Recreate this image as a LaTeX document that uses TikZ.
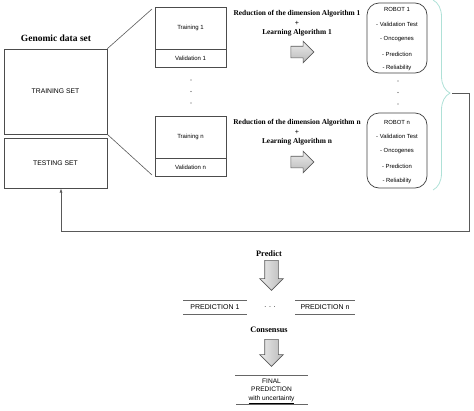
\documentclass[tikz,border=0pt]{standalone}
\usepackage{fontspec}
\setmainfont{Liberation Serif}
\setsansfont{Liberation Sans}
\usetikzlibrary{shapes.arrows,decorations.pathreplacing,arrows.meta}
\definecolor{braceteal}{RGB}{175,225,215}
\tikzset{
  box/.style={draw=black!70, line width=0.6pt, fill=white, inner sep=0pt, font=\sffamily\fontsize{6.8}{7}\selectfont},
  smallbox/.style={draw=black!70, line width=0.6pt, fill=white, inner sep=0pt, font=\sffamily\fontsize{6}{6}\selectfont},
  robot/.style={draw=black!75, line width=0.7pt, rounded corners=12pt, minimum width=60pt, inner sep=0pt},
  rtext/.style={font=\sffamily\fontsize{5.9}{6}\selectfont, inner sep=0pt},
  alg/.style={font=\bfseries\fontsize{7.4}{9.5}\selectfont, inner sep=0pt, align=center},
  lbl/.style={font=\bfseries\fontsize{8.3}{9}\selectfont, inner sep=0pt},
  ptext/.style={font=\sffamily\fontsize{7}{8}\selectfont, inner sep=0pt},
  blockarrow/.style={single arrow, draw=black!65, line width=0.6pt, top color=gray!15, bottom color=gray!55,
     single arrow head extend=5pt, inner sep=0pt},
  dotp/.style={circle, fill=black!70, inner sep=0pt, minimum size=1.3pt},
  conn/.style={draw=black!65, line width=0.6pt},
  plines/.style={draw=black!60, line width=0.8pt},
}
\begin{document}
\begin{tikzpicture}[x=1pt,y=-1pt]
\useasboundingbox (0,0) rectangle (474,410);

% left data set
\node[font=\bfseries\fontsize{9.5}{10}\selectfont, inner sep=0pt] (title) at (56,38) {Genomic data set};
\node[box, minimum width=103pt, minimum height=85pt] (trainset) at (55.5,91.5) {TRAINING SET};
\node[box, minimum width=103pt, minimum height=50pt] (testset) at (55.5,163) {TESTING SET};

% training/validation splits
\node[smallbox, minimum width=71pt, minimum height=42pt] (tr1) at (190.5,28) {Training 1};
\node[smallbox, minimum width=71pt, minimum height=18pt] (va1) at (190.5,58) {Validation 1};
\node[smallbox, minimum width=71pt, minimum height=42pt] (trn) at (190.5,137) {Training n};
\node[smallbox, minimum width=71pt, minimum height=18pt] (van) at (190.5,167) {Validation n};

\coordinate (zt) at (152,9);
\coordinate (zb) at (152,175);
\draw[conn] (trainset.north east) -- (zt);
\draw[conn] (trainset.south east) -- (zb);

\node[dotp] (d1) at (191,80) {};
\node[dotp] (d2) at (191,91.5) {};
\node[dotp] (d3) at (191,103) {};

% algorithms
\node[alg] (alg1) at (297,23.5) {Reduction of the dimension Algorithm 1\\+\\Learning Algorithm 1};
\node[alg] (algn) at (297,132.5) {Reduction of the dimension Algorithm n\\+\\Learning Algorithm n};
\node[blockarrow, minimum height=23pt] (arr1) at (299.5,52) {\rule{0pt}{11pt}};
\node[blockarrow, minimum height=23pt] (arrn) at (299.5,162) {\rule{0pt}{11pt}};

% robots
\node[robot, minimum height=70pt] (rob1) at (397,38) {};
\node[rtext] (r1a) at (397,9) {ROBOT 1};
\node[rtext] (r1b) at (397,24) {- Validation Test};
\node[rtext] (r1c) at (397,39) {- Oncogenes};
\node[rtext] (r1d) at (397,54) {- Prediction};
\node[rtext] (r1e) at (397,68) {- Reliability};

\node[dotp] (e1) at (398,81) {};
\node[dotp] (e2) at (398,92.5) {};
\node[dotp] (e3) at (398,104) {};

\node[robot, minimum height=75pt] (robn) at (397,150.5) {};
\node[rtext] (rna) at (397,122) {ROBOT n};
\node[rtext] (rnb) at (397,136) {- Validation Test};
\node[rtext] (rnc) at (397,151) {- Oncogenes};
\node[rtext] (rnd) at (397,166) {- Prediction};
\node[rtext] (rne) at (397,181) {- Reliability};

% brace and feedback loop
\draw[braceteal, line width=0.8pt, decorate, decoration={brace, amplitude=17pt, aspect=0.49}] (433,0) -- (433,190);
\coordinate (btip) at (452,93);
\coordinate (lr) at (469,93);
\coordinate (lb) at (469,231);
\coordinate (ll) at (61,231);
\coordinate (tin) at (61,188.5);
\draw[conn, -{Latex[length=4pt,width=3pt]}] (btip) -- (lr) -- (lb) -- (ll) -- (tin);

% prediction part
\node[lbl] (predict) at (269,254) {Predict};
\node[blockarrow, shape border rotate=270, minimum height=30pt, left color=gray!15, right color=gray!55] (arrp) at (271.5,272) {\rule{13pt}{0pt}};

\node[ptext] (p1) at (215,307) {PREDICTION 1};
\node[ptext] (pdots) at (270,307) {. . .};
\node[ptext] (pn) at (325,307) {PREDICTION n};
\draw[plines] (183,300) -- (247,300);
\draw[plines] (183,314) -- (247,314);
\draw[plines] (295,300) -- (355,300);
\draw[plines] (295,314) -- (355,314);

\node[lbl] (cons) at (269,330) {Consensus};
\node[blockarrow, shape border rotate=270, minimum height=27pt, left color=gray!15, right color=gray!55] (arrc) at (271.5,349.5) {\rule{13pt}{0pt}};

\draw[plines] (235,375) -- (308,375);
\node[ptext, font=\sffamily\fontsize{6.6}{8.5}\selectfont, align=center] (final) at (271.5,391) {FINAL\\PREDICTION\\\underline{with uncertainty}};
\draw[plines] (236,404.5) -- (308,404.5);
\end{tikzpicture}
\end{document}
